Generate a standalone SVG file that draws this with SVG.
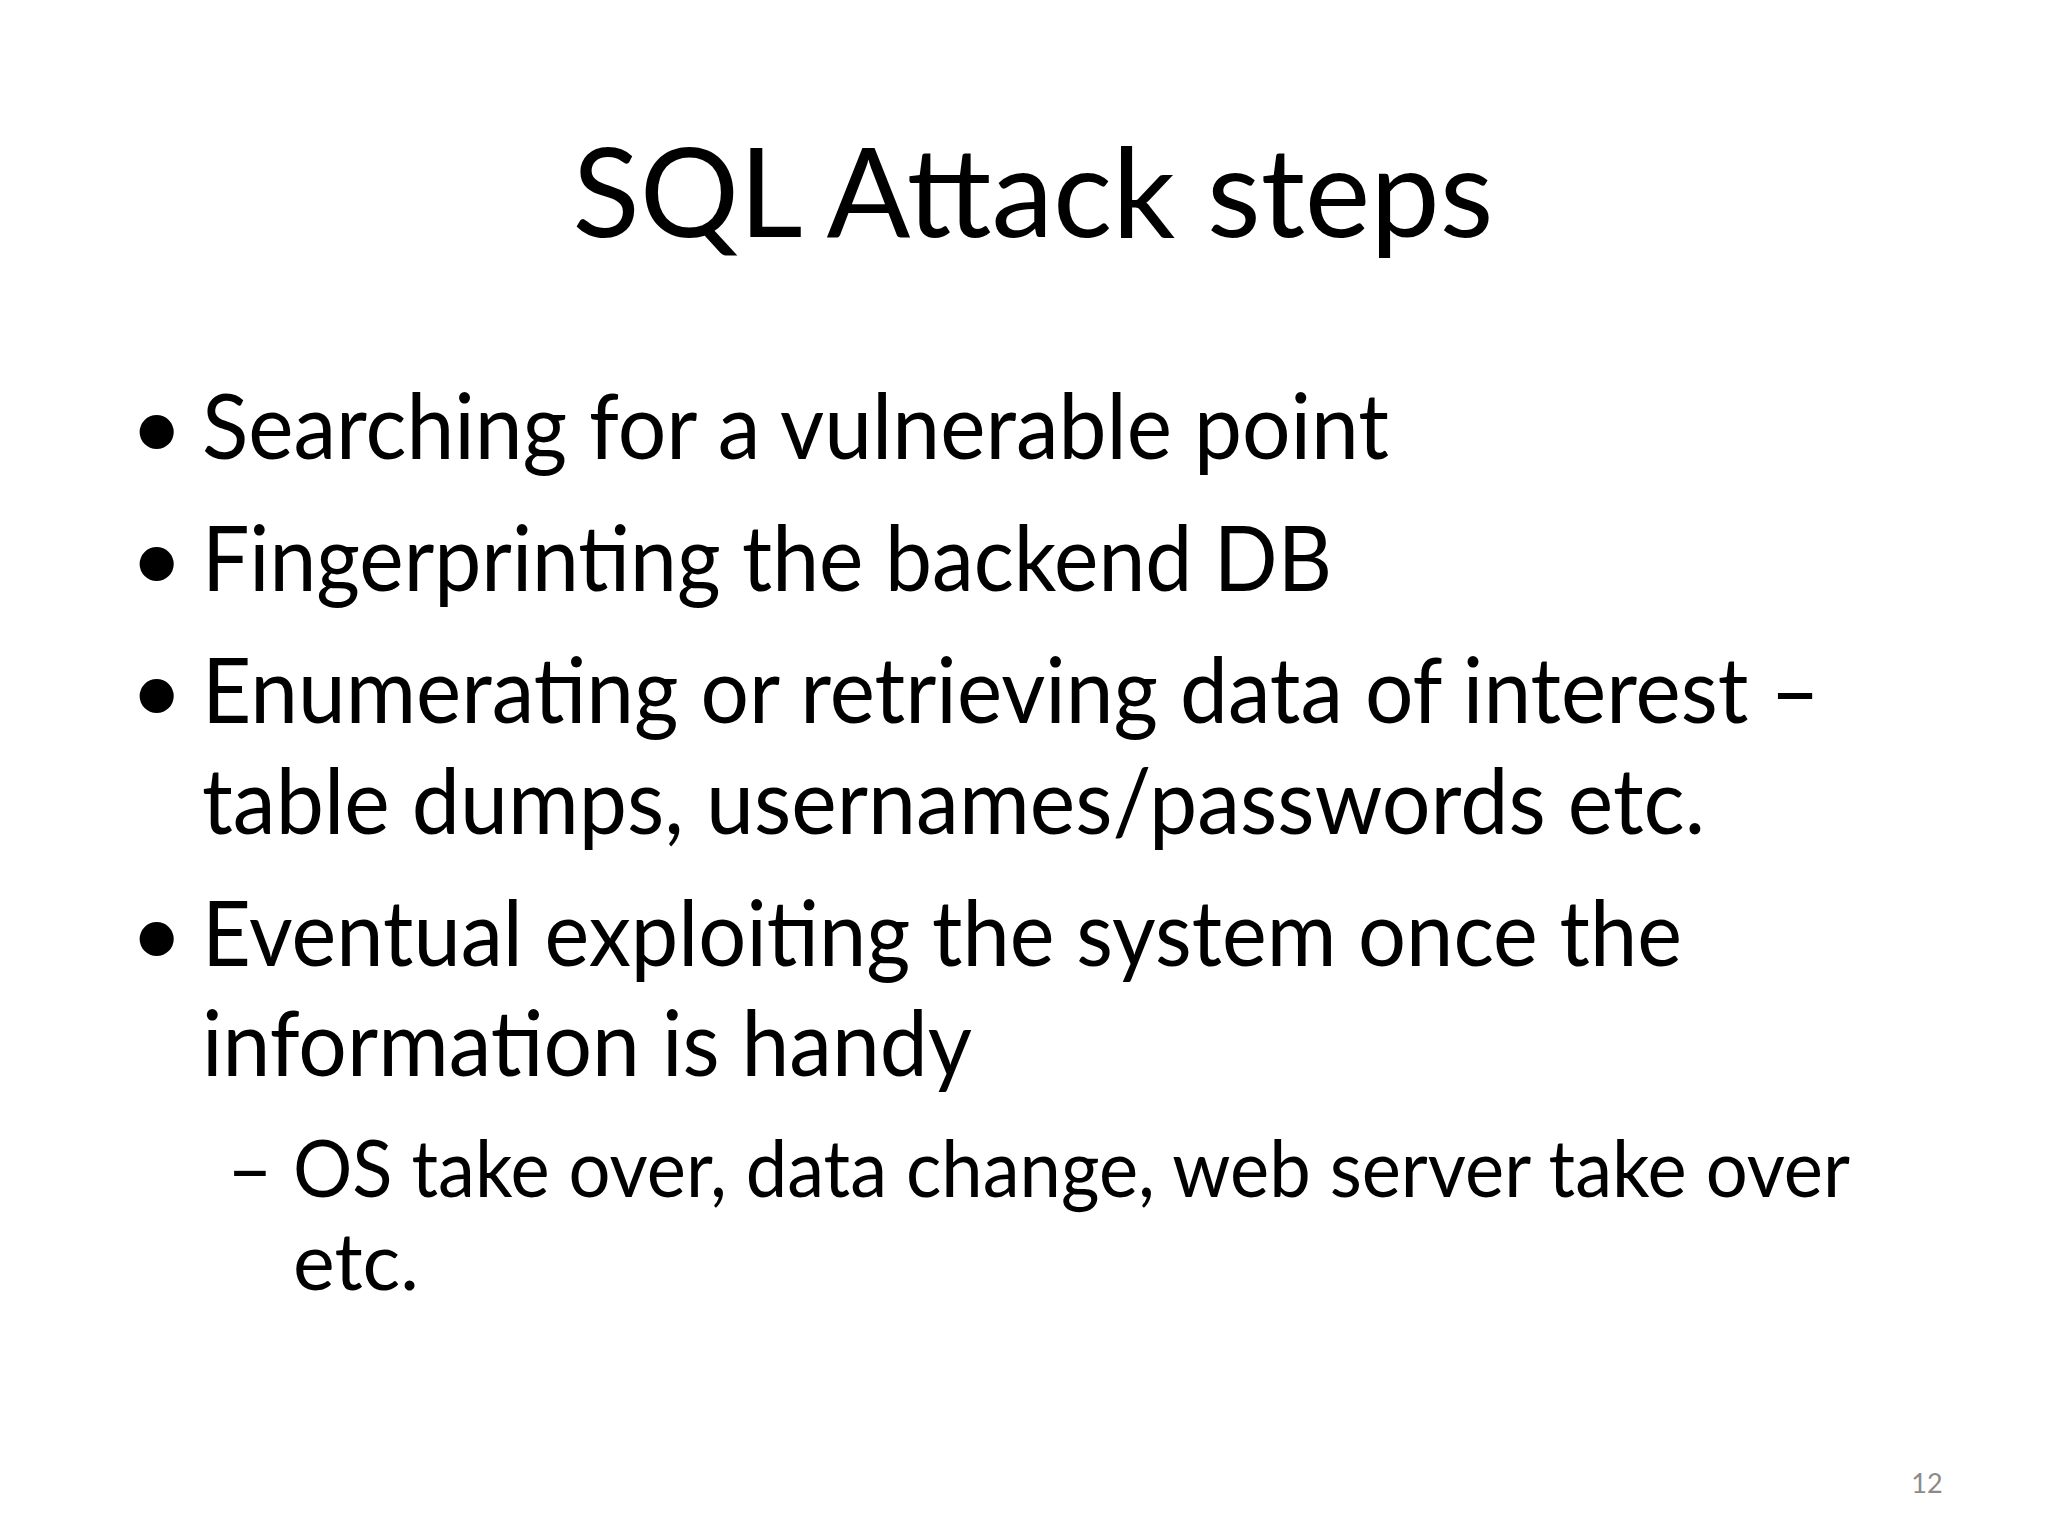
<svg xmlns="http://www.w3.org/2000/svg" width="2048" height="1536" viewBox="0 0 2048 1536">
<style>
text{font-family:Lato,"Open Sans","Liberation Sans",sans-serif;fill:#000}
.b{font-size:92px}
.s{font-size:79px}
</style>
<rect width="2048" height="1536" fill="#fff"/>
<text x="1033" y="237" font-size="124" text-anchor="middle">SQL Attack steps</text>
<g class="b">
<text x="130" y="459">•</text><text x="202" y="459" textLength="1187" lengthAdjust="spacingAndGlyphs">Searching for a vulnerable point</text>
<text x="130" y="591">•</text><text x="202" y="591" textLength="1130" lengthAdjust="spacingAndGlyphs">Fingerprinting the backend DB</text>
<text x="130" y="723">•</text><text x="202" y="723" textLength="1618" lengthAdjust="spacingAndGlyphs">Enumerating or retrieving data of interest –</text>
<text x="202" y="834" textLength="1503" lengthAdjust="spacingAndGlyphs">table dumps, usernames/passwords etc.</text>
<text x="130" y="966">•</text><text x="202" y="966" textLength="1480" lengthAdjust="spacingAndGlyphs">Eventual exploiting the system once the</text>
<text x="202" y="1076" textLength="770" lengthAdjust="spacingAndGlyphs">information is handy</text>
</g>
<g class="s">
<text x="227" y="1197">–</text><text x="293" y="1197" textLength="1557" lengthAdjust="spacingAndGlyphs">OS take over, data change, web server take over</text>
<text x="293" y="1290">etc.</text>
</g>
<text x="1927" y="1493" font-size="27" fill="#8a8a8a" style="fill:#8a8a8a" text-anchor="middle">12</text>
</svg>
